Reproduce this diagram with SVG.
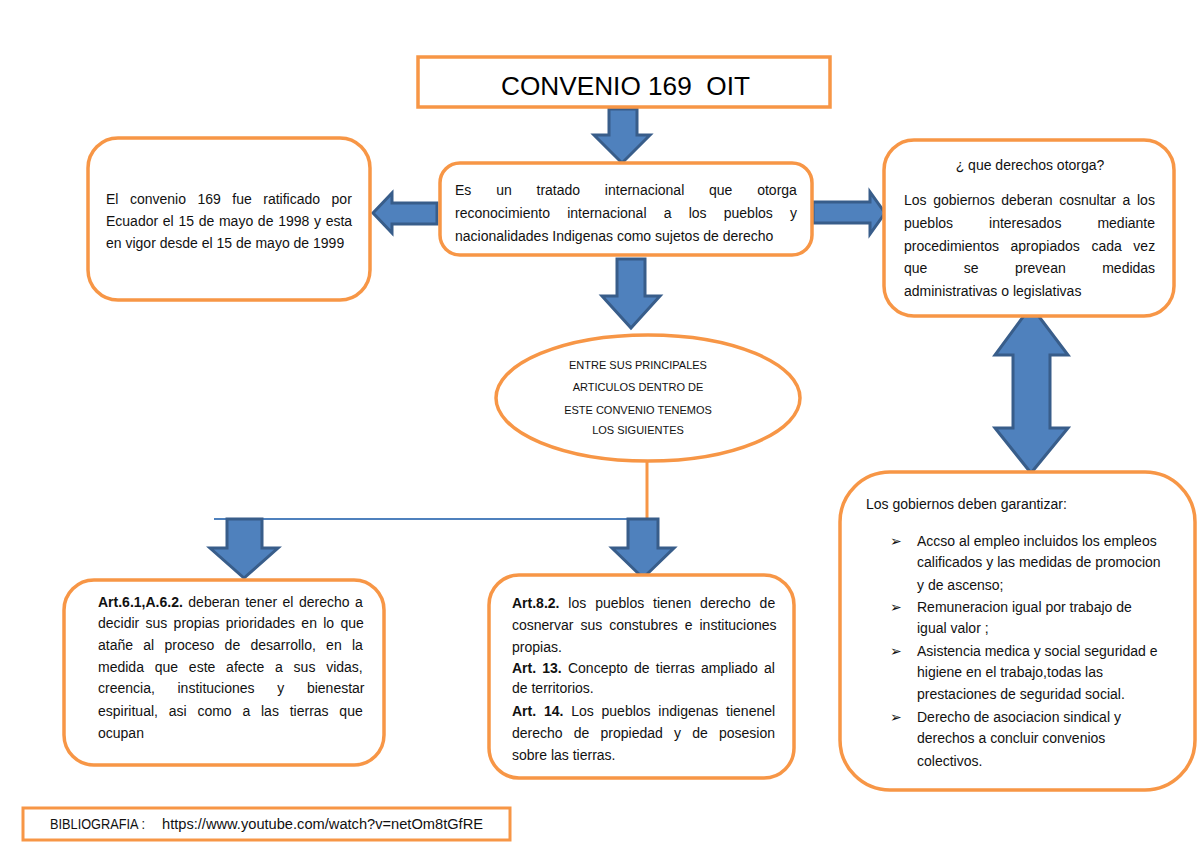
<svg xmlns="http://www.w3.org/2000/svg" width="1200" height="848" viewBox="0 0 1200 848">
<defs>
<style>
.box{fill:#fff;stroke:#F79646;stroke-width:3.5}
.arr{fill:#4F81BD;stroke:#385D8A;stroke-width:3;stroke-linejoin:miter}
.t{font-family:"Liberation Sans",Arial,sans-serif;font-size:14px;fill:#111}
.b{font-weight:bold}
.e{font-family:"Liberation Sans",Arial,sans-serif;font-size:11px;fill:#111;text-anchor:middle}
</style>
</defs>
<rect width="1200" height="848" fill="#fff"/>

<g id="connectors">
<path class="arr" d="M609,109 H637 V135 H650 L622,163 L594,135 H609 Z"/>
<path class="arr" d="M437,203 V224 H392 V233 L373,213 L392,193 V203 Z"/>
<path class="arr" d="M813,202 H870 V192 L885,213 L870,234 V223 H813 Z"/>
<path class="arr" d="M617,259 H645 V296 H660 L631,328 L602,296 H617 Z"/>
<path class="arr" d="M1031,306 L1068,355 H1050 V428 H1068 L1031,473 L995,428 H1013 V355 H995 Z"/>
<line x1="647" y1="462" x2="647" y2="519" stroke="#F79646" stroke-width="3"/>
<line x1="214" y1="519" x2="647" y2="519" stroke="#4F81BD" stroke-width="2"/>
<path class="arr" d="M227,519 H262 V548 H278 L244,578 L210,548 H227 Z"/>
<path class="arr" d="M628,519 H658 V548 H674 L643,578 L612,548 H628 Z"/>
</g>

<g id="title">
<rect class="box" x="418" y="57" width="412" height="50"/>
<text x="501" y="95" font-family="'Liberation Sans',Arial,sans-serif" font-size="26" textLength="249" lengthAdjust="spacingAndGlyphs" fill="#000">CONVENIO 169&#160; OIT</text>
</g>

<g id="definicion">
<rect class="box" x="440" y="163" width="372" height="92" rx="20"/>
<text class="t" x="455" y="195" word-spacing="20.9">Es un tratado internacional que otorga</text>
<text class="t" x="455" y="218" word-spacing="13.3">reconocimiento internacional a los pueblos y</text>
<text class="t" x="455" y="241">nacionalidades Indigenas como sujetos de derecho</text>
</g>

<g id="ratificacion">
<rect class="box" x="88" y="138" width="282" height="162" rx="30"/>
<text class="t" x="106" y="204" word-spacing="7.6">El convenio 169 fue ratificado por</text>
<text class="t" x="106" y="226" word-spacing="0.8">Ecuador el 15 de mayo de 1998 y esta</text>
<text class="t" x="106" y="248">en vigor desde el 15 de mayo de 1999</text>
</g>

<g id="derechos">
<rect class="box" x="884" y="140" width="290" height="176" rx="30"/>
<text class="t" x="1030" y="170" text-anchor="middle">¿ que derechos otorga?</text>
<text class="t" x="904" y="205" word-spacing="2.7">Los gobiernos deberan cosnultar a los</text>
<text class="t" x="904" y="228" word-spacing="32.1">pueblos interesados mediante</text>
<text class="t" x="904" y="251" word-spacing="7.7">procedimientos apropiados cada vez</text>
<text class="t" x="904" y="273" word-spacing="32.6">que se prevean medidas</text>
<text class="t" x="904" y="296">administrativas o legislativas</text>
</g>

<g id="articulos">
<ellipse cx="648" cy="398" rx="152" ry="63" fill="#fff" stroke="#F79646" stroke-width="3.5"/>
<text class="e" x="638" y="369">ENTRE SUS PRINCIPALES</text>
<text class="e" x="638" y="391">ARTICULOS DENTRO DE</text>
<text class="e" x="638" y="414">ESTE CONVENIO TENEMOS</text>
<text class="e" x="638" y="434">LOS SIGUIENTES</text>
</g>

<g id="art6">
<rect class="box" x="64" y="580" width="320" height="185" rx="30"/>
<text class="t" x="98" y="607" word-spacing="1.6"><tspan class="b">Art.6.1,A.6.2.</tspan> deberan tener el derecho a</text>
<text class="t" x="98" y="628" word-spacing="2.4">decidir sus propias prioridades en lo que</text>
<text class="t" x="98" y="650" word-spacing="6.4">atañe al proceso de desarrollo, en la</text>
<text class="t" x="98" y="672" word-spacing="6.9">medida que este afecte a sus vidas,</text>
<text class="t" x="98" y="693" word-spacing="18.8">creencia, instituciones y bienestar</text>
<text class="t" x="98" y="716" word-spacing="6.9">espiritual, asi como a las tierras que</text>
<text class="t" x="98" y="738">ocupan</text>
</g>

<g id="art8">
<rect class="box" x="489" y="575" width="305" height="203" rx="30"/>
<text class="t" x="512" y="608" word-spacing="5"><tspan class="b">Art.8.2.</tspan> los pueblos tienen derecho de</text>
<text class="t" x="512" y="630" word-spacing="3.1">cosnervar sus constubres e instituciones</text>
<text class="t" x="512" y="652">propias.</text>
<text class="t" x="512" y="673" word-spacing="2.3"><tspan class="b">Art. 13.</tspan> Concepto de tierras ampliado al</text>
<text class="t" x="512" y="693">de territorios.</text>
<text class="t" x="512" y="716" word-spacing="3.9"><tspan class="b">Art. 14.</tspan> Los pueblos indigenas tienenel</text>
<text class="t" x="512" y="738" word-spacing="7.3">derecho de propiedad y de posesion</text>
<text class="t" x="512" y="760">sobre las tierras.</text>
</g>

<g id="garantias">
<rect class="box" x="840" y="472" width="355" height="318" rx="50"/>
<text class="t" x="866" y="509">Los gobiernos deben garantizar:</text>
<text class="t" x="890" y="546">➢</text>
<text class="t" x="917" y="546">Accso al empleo incluidos los empleos</text>
<text class="t" x="917" y="567">calificados y las medidas de promocion</text>
<text class="t" x="917" y="590">y de ascenso;</text>
<text class="t" x="890" y="612">➢</text>
<text class="t" x="917" y="612">Remuneracion igual por trabajo de</text>
<text class="t" x="917" y="633">igual valor ;</text>
<text class="t" x="890" y="656">➢</text>
<text class="t" x="917" y="656">Asistencia medica y social seguridad e</text>
<text class="t" x="917" y="677">higiene en el trabajo,todas las</text>
<text class="t" x="917" y="699">prestaciones de seguridad social.</text>
<text class="t" x="890" y="722">➢</text>
<text class="t" x="917" y="722">Derecho de asociacion sindical y</text>
<text class="t" x="917" y="743">derechos a concluir convenios</text>
<text class="t" x="917" y="766">colectivos.</text>
</g>

<g id="bibliografia">
<rect x="23" y="808" width="487" height="32" fill="#fff" stroke="#F79646" stroke-width="3"/>
<text class="t" x="50" y="829" font-size="12" textLength="95" lengthAdjust="spacingAndGlyphs">BIBLIOGRAFIA :</text>
<text class="t" x="162" y="829" font-size="12.5" textLength="321" lengthAdjust="spacingAndGlyphs">https://www.youtube.com/watch?v=netOm8tGfRE</text>
</g>
</svg>
